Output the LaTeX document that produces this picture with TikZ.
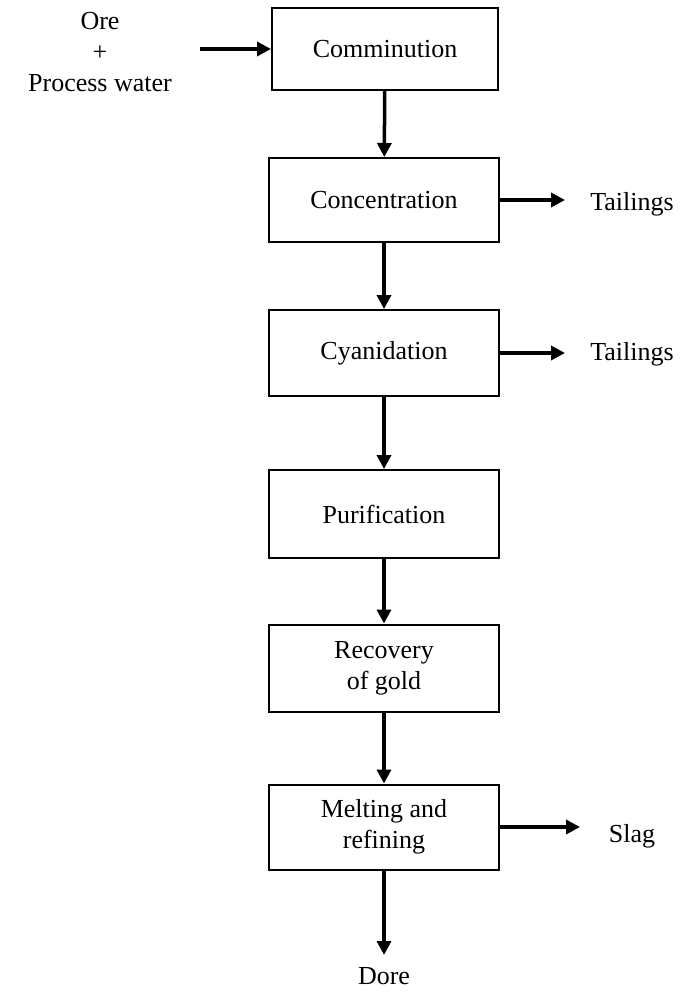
\documentclass[tikz,border=0pt]{standalone}
\usepackage{fontspec}
\setmainfont{Liberation Serif}
\usetikzlibrary{arrows.meta}
\tikzset{every picture/.style={line width=2pt}}
\tikzset{stage/.style={draw,minimum width=230pt,minimum height=85pt,align=center,inner sep=0pt},
  flow/.style={line width=3.5pt,-{Triangle[length=14pt,width=14pt]}},
  lbl/.style={align=center,inner sep=0pt}}

\begin{document}
\begin{tikzpicture}[x=1pt,y=1pt,yscale=-1,font=\fontsize{26}{31}\selectfont]
\path[use as bounding box] (0,0) rectangle (685,992);

%Boxes
\node[stage,minimum width=226pt,minimum height=82pt] (comm) at (385,49) {Comminution};
\node[stage,minimum height=84pt] (conc) at (384,200) {Concentration};
\node[stage,minimum height=86pt] (cyan) at (384,353) {Cyanidation};
\node[stage,minimum height=88pt] (puri) at (384,514) {Purification};
\node[stage,minimum height=87pt] (reco) at (384,668) {Recovery\\of gold};
\node[stage] (melt) at (384,827) {Melting and\\refining};

%Texts
\node[lbl] (ore) at (100,52) {Ore\\+\\Process water};
\node[lbl] (tail1) at (632,204) {Tailings};
\node[lbl] (tail2) at (632,354) {Tailings};
\node[lbl] (slag) at (632,836) {Slag};
\node[lbl] (dore) at (384,976) {Dore};
\coordinate (feed) at (200,49);
\coordinate (tail1e) at (565,200);
\coordinate (tail2e) at (565,353);
\coordinate (slage) at (580,827);
\coordinate (dores) at (384,955);

%Arrows
\draw[flow] (feed) -- (comm.west);
\draw[flow] (comm) -- (conc);
\draw[flow] (conc) -- (cyan);
\draw[flow] (cyan) -- (puri);
\draw[flow] (puri) -- (reco);
\draw[flow] (reco) -- (melt);
\draw[flow] (melt) -- (dores);
\draw[flow] (conc.east) -- (tail1e);
\draw[flow] (cyan.east) -- (tail2e);
\draw[flow] (melt.east) -- (slage);
\end{tikzpicture}
\end{document}
